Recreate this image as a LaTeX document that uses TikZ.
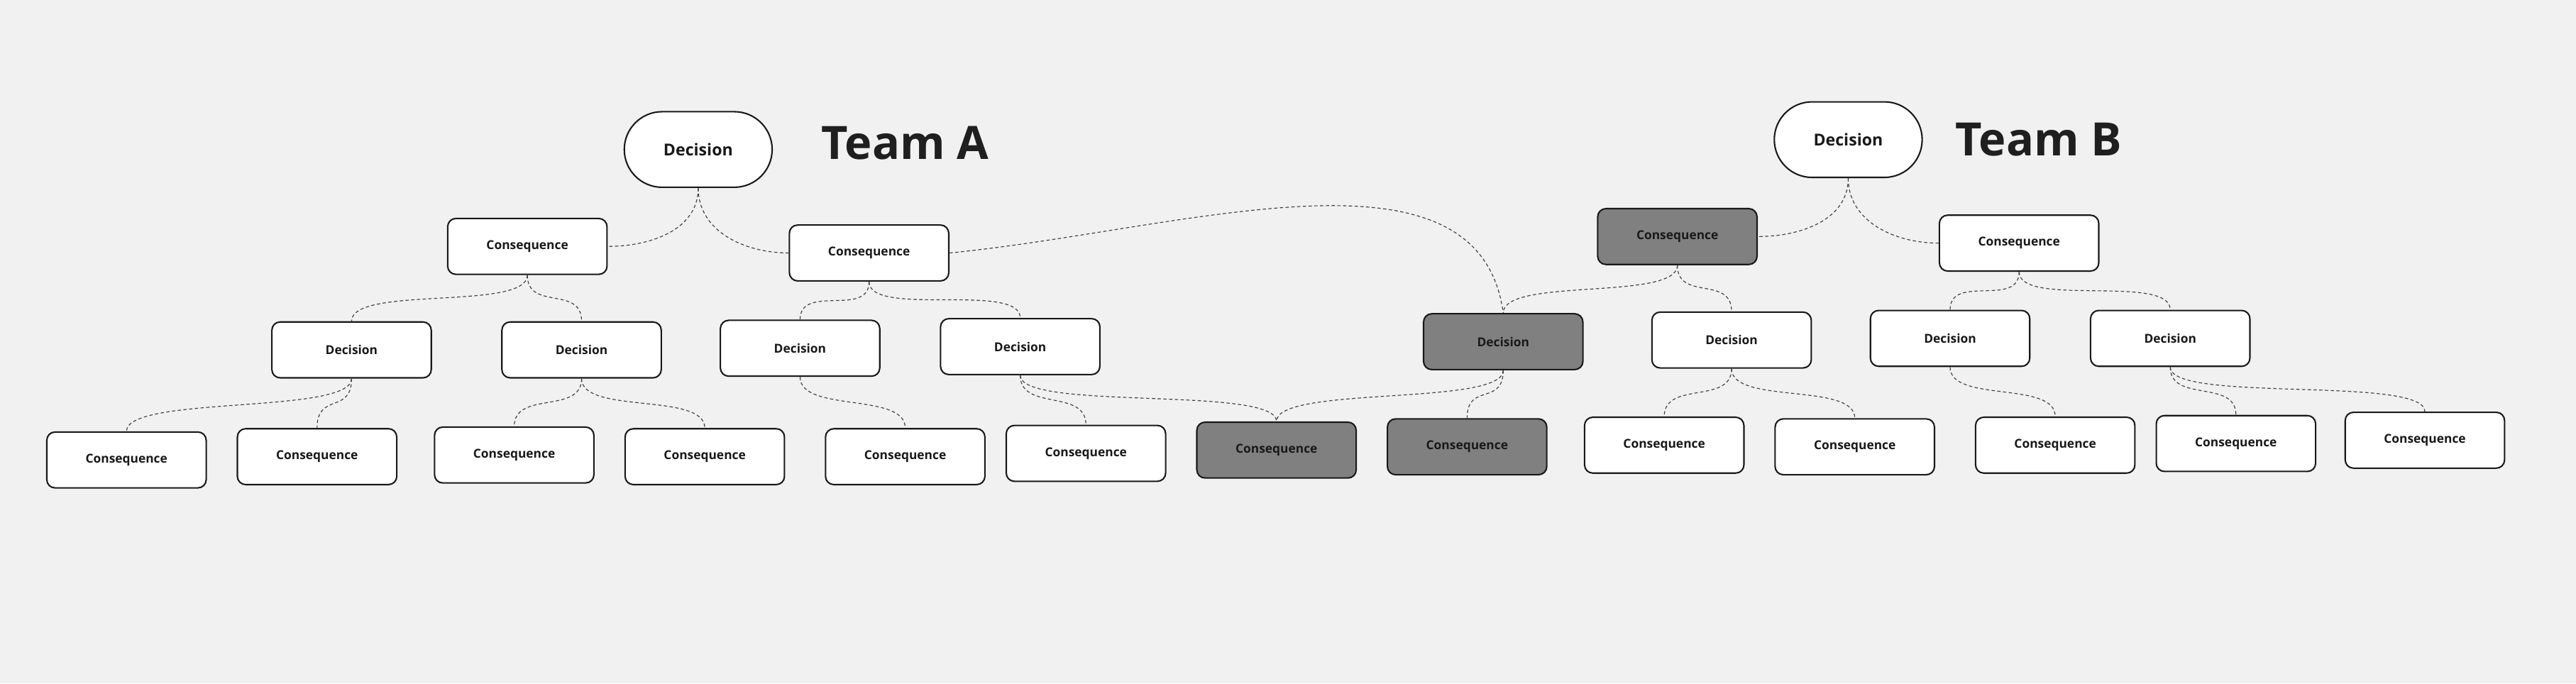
\documentclass[tikz,border=0pt]{standalone}
\usepackage{fontspec}
\setmainfont{Open Sans}
\begin{document}
\begin{tikzpicture}[x=1pt,y=-1pt,
 box/.style={draw=black!90,line width=0.9pt,rounded corners=5pt,minimum width=97pt,minimum height=34pt,fill=white,font=\fontsize{7.5}{9}\selectfont\bfseries,text=black!90},
 gbox/.style={box,fill=black!50},
 top/.style={draw=black!90,line width=0.9pt,rounded corners=23pt,minimum width=90pt,minimum height=46pt,fill=white,font=\fontsize{10}{12}\selectfont\bfseries,text=black!90},
 con/.style={dashed,dash pattern=on 2pt off 1.5pt,line width=0.5pt,draw=black!75},
 title/.style={font=\fontsize{28}{32}\selectfont\bfseries,text=black!88}]
\fill[black!5.5] (0,0) rectangle (1568,416);
\useasboundingbox (0,0) rectangle (1568,416);
% Team A
\node[top] (da) at (425,91) {Decision};
\node[title] (ta) at (551,87) {Team A};
\node[box] (c1) at (321,150) {Consequence};
\node[box] (c2) at (529,154) {Consequence};
\node[box] (d1) at (214,213) {Decision};
\node[box] (d2) at (354,213) {Decision};
\node[box] (d3) at (487,212) {Decision};
\node[box] (d4) at (621,211) {Decision};
\node[box] (e1) at (77,280) {Consequence};
\node[box] (e2) at (193,278) {Consequence};
\node[box] (e3) at (313,277) {Consequence};
\node[box] (e4) at (429,278) {Consequence};
\node[box] (e5) at (551,278) {Consequence};
\node[box] (e6) at (661,276) {Consequence};
\node[gbox] (e7) at (777,274) {Consequence};
\node[gbox] (e8) at (893,272) {Consequence};
\node[gbox] (gd) at (915,208) {Decision};
% Team B
\node[top] (db) at (1125,85) {Decision};
\node[title] (tb) at (1241,85) {Team B};
\node[gbox] (b1) at (1021,144) {Consequence};
\node[box] (b2) at (1229,148) {Consequence};
\node[box] (f1) at (1054,207) {Decision};
\node[box] (f2) at (1187,206) {Decision};
\node[box] (f3) at (1321,206) {Decision};
\node[box] (g1) at (1013,271) {Consequence};
\node[box] (g2) at (1129,272) {Consequence};
\node[box] (g3) at (1251,271) {Consequence};
\node[box] (g4) at (1361,270) {Consequence};
\node[box] (g5) at (1476,268) {Consequence};
% connectors
\begin{scope}[con]
\draw (da.south) to[out=270,in=0] (c1.east);
\draw (da.south) to[out=270,in=180] (c2.west);
\foreach \p/\c in {c1/d1,c1/d2,c2/d3,c2/d4,d1/e1,d1/e2,d2/e3,d2/e4,d3/e5,d4/e6,d4/e7,gd/e7,gd/e8,
  b1/gd,b1/f1,b2/f2,b2/f3,f1/g1,f1/g2,f2/g3,f3/g4,f3/g5}
  \draw (\p.south) .. controls +(0,22) and +(0,-22) .. (\c.north);
\draw (c2.east) .. controls (720,140) and (900,80) .. (gd.north);
\draw (db.south) to[out=270,in=0] (b1.east);
\draw (db.south) to[out=270,in=180] (b2.west);
\end{scope}
\end{tikzpicture}
\end{document}
